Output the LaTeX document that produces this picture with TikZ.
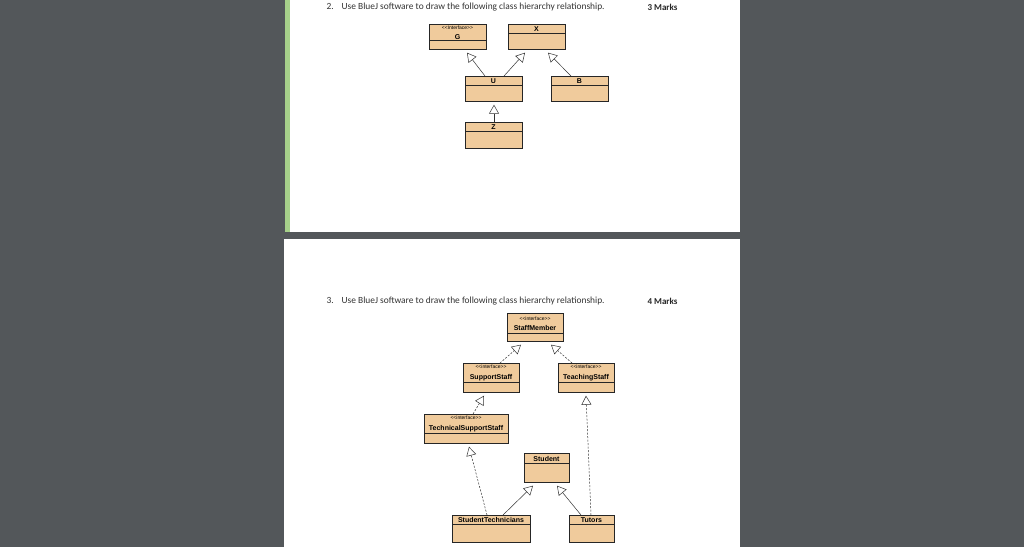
\documentclass[tikz,border=0pt]{standalone}
\usepackage{fontspec}
\setmainfont{Carlito}
\newfontfamily\boxfont{Liberation Sans}
\usetikzlibrary{arrows.meta,calc}
\definecolor{bg}{HTML}{53575A}
\definecolor{boxc}{HTML}{F0CB9C}
\definecolor{bar}{HTML}{A6D08A}
\newcommand{\sttxt}[1]{{\boxfont\fontsize{5}{5.5}\selectfont #1}}
\newcommand{\lbtxt}[1]{{\boxfont\bfseries\fontsize{7}{7.5}\selectfont #1}}
\tikzset{
 cls/.style={draw=black!85,fill=boxc,line width=0.7pt,inner sep=0},
 inh/.style={-{Triangle[open,length=9,width=10,fill=white]},line width=0.5pt,black!80},
 real/.style={inh,dash pattern=on 2pt off 1.5pt},
 q/.style={font=\fontsize{9.4}{11}\selectfont,anchor=west,text=black!80},
 mk/.style={font=\bfseries\fontsize{9}{11}\selectfont,anchor=west,text=black!85},
}
\newcommand{\ubox}[7]{%
 \node[cls,minimum width={#4-#2},minimum height={#5-#3},anchor=north west] (#1) at (#2,#3) {};
 \draw[black!85,line width=0.6pt] (#2,#6) -- (#4,#6);
 \node[anchor=center,align=center,inner sep=0] (#1t) at ({(#2+#4)/2},{(#3+#6)/2+0.5}) {#7};}
\begin{document}
\begin{tikzpicture}[x=1pt,y=-1pt]
\fill[bg] (0,0) rectangle (1024,547);
\useasboundingbox (0,0) rectangle (1024,547);
\fill[white] (285,0) rectangle (740,232);
\fill[bar] (285,0) rectangle (290,232);
\fill[white] (284,239) rectangle (740,547);
\node[q] (q2) at (323,7) {2.\hspace{8pt}Use BlueJ software to draw the following class hierarchy relationship.};
\node[mk] (m2) at (644,7) {3 Marks};
\node[q] (q3) at (323,301) {3.\hspace{8pt}Use BlueJ software to draw the following class hierarchy relationship.};
\node[mk] (m3) at (644,301) {4 Marks};
% top diagram
\ubox{g}{429}{24}{486}{49}{40}{\sttxt{<<Interface>>}\\[-1.5pt]\lbtxt{G}}
\ubox{x}{508}{24}{565}{49}{33}{\lbtxt{X}}
\ubox{u}{465}{76}{522}{101}{85}{\lbtxt{U}}
\ubox{b}{551}{76}{608}{101}{85}{\lbtxt{B}}
\ubox{z}{465}{122}{522}{148}{131}{\lbtxt{Z}}
\draw[inh] ($(u.north west)+(20,0)$) -- ($(g.south west)+(38,3)$);
\draw[inh] ($(u.north west)+(39,0)$) -- ($(x.south west)+(17,3)$);
\draw[inh] ($(b.north west)+(20,0)$) -- ($(x.south west)+(40,3)$);
\draw[inh] ($(z.north west)+(29,0)$) -- ($(u.south west)+(29,3)$);
% bottom diagram
\ubox{sm}{507}{313}{563}{341}{333}{\sttxt{<<interface>>}\\[-1.5pt]\lbtxt{StaffMember}}
\ubox{ss}{463}{363}{519}{392}{382}{\sttxt{<<interface>>}\\[-1.5pt]\lbtxt{SupportStaff}}
\ubox{ts}{558}{363}{614}{392}{382}{\sttxt{<<interface>>}\\[-1.5pt]\lbtxt{TeachingStaff}}
\ubox{tss}{424}{414}{508}{443}{433}{\sttxt{<<interface>>}\\[-1.5pt]\lbtxt{TechnicalSupportStaff}}
\ubox{stu}{524}{453}{569}{482}{463}{\lbtxt{Student}}
\ubox{stt}{452}{515}{530}{542}{524}{\lbtxt{StudentTechnicians}}
\ubox{tut}{569}{515}{614}{542}{524}{\lbtxt{Tutors}}
\draw[real] ($(ss.north west)+(37,0)$) -- ($(sm.south west)+(14,3)$);
\draw[real] ($(ts.north west)+(14,0)$) -- ($(sm.south west)+(44,3)$);
\draw[real] ($(tss.north west)+(49,0)$) -- ($(ss.south west)+(21,3)$);
\draw[real] ($(tut.north west)+(22,0)$) -- ($(ts.south west)+(28,3)$);
\draw[real] ($(stt.north west)+(35,0)$) -- ($(tss.south west)+(45,3)$);
\draw[inh] ($(stt.north west)+(51,0)$) -- ($(stu.south west)+(9,3)$);
\draw[inh] ($(tut.north west)+(12,0)$) -- ($(stu.south west)+(33,3)$);
\end{tikzpicture}
\end{document}
